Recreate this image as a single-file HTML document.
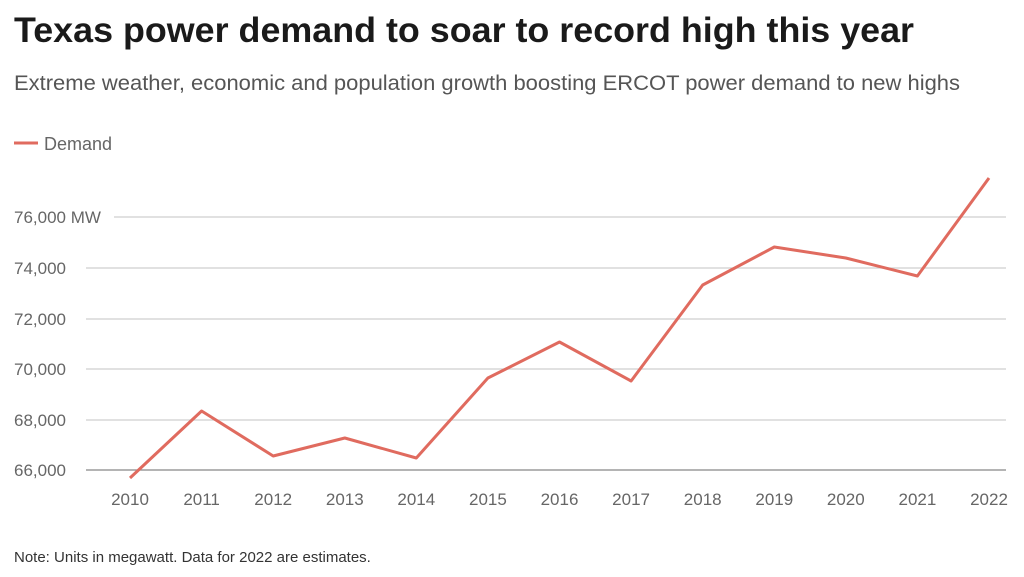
<!DOCTYPE html>
<html><head><meta charset="utf-8"><style>
body{margin:0;width:1024px;height:572px;background:#fff;overflow:hidden;font-family:"Liberation Sans",sans-serif}
</style></head><body>
<svg width="1024" height="572" xmlns="http://www.w3.org/2000/svg" font-family="Liberation Sans, sans-serif">
<text x="14" y="42" font-size="35" font-weight="bold" fill="#1a1a1a" textLength="900" lengthAdjust="spacingAndGlyphs">Texas power demand to soar to record high this year</text>
<text x="14" y="90" font-size="21" fill="#555" textLength="946" lengthAdjust="spacingAndGlyphs">Extreme weather, economic and population growth boosting ERCOT power demand to new highs</text>
<line x1="14" y1="143" x2="38" y2="143" stroke="#e06b5f" stroke-width="3"/>
<text x="44" y="150" font-size="18" fill="#666">Demand</text>
<g stroke="#cfcfcf" stroke-width="1.3">
<line x1="114" y1="217" x2="1006" y2="217"/>
<line x1="86" y1="268" x2="1006" y2="268"/>
<line x1="86" y1="319" x2="1006" y2="319"/>
<line x1="86" y1="369" x2="1006" y2="369"/>
<line x1="86" y1="420" x2="1006" y2="420"/>
</g>
<line x1="86" y1="470" x2="1006" y2="470" stroke="#888" stroke-width="1.3"/>
<g font-size="17" fill="#666">
<text x="14" y="223">76,000 MW</text>
<text x="14" y="274">74,000</text>
<text x="14" y="325">72,000</text>
<text x="14" y="375">70,000</text>
<text x="14" y="426">68,000</text>
<text x="14" y="476">66,000</text>
</g>
<g font-size="17" fill="#666" text-anchor="middle">
<text x="130" y="505">2010</text><text x="201.6" y="505">2011</text><text x="273.2" y="505">2012</text><text x="344.8" y="505">2013</text><text x="416.3" y="505">2014</text><text x="487.9" y="505">2015</text><text x="559.5" y="505">2016</text><text x="631.1" y="505">2017</text><text x="702.7" y="505">2018</text><text x="774.3" y="505">2019</text><text x="845.8" y="505">2020</text><text x="917.4" y="505">2021</text><text x="989" y="505">2022</text>
</g>
<polyline fill="none" stroke="#e06b5f" stroke-width="3" stroke-linejoin="round" points="130,478 201.6,411 273.2,456 344.8,438 416.3,458 487.9,378 559.5,342 631.1,381 702.7,285 774.3,247 845.8,258 917.4,276 989,178"/>
<text x="14" y="562" font-size="15" fill="#333">Note: Units in megawatt. Data for 2022 are estimates.</text>
</svg>
</body></html>
